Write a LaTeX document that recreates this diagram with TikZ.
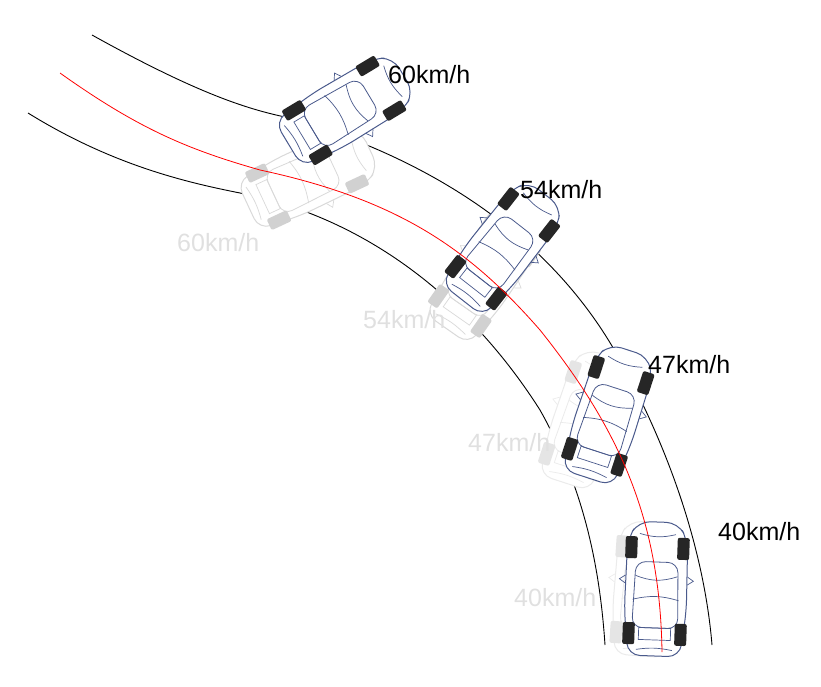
\documentclass[tikz,border=0pt]{standalone}
\usepackage{fontspec}
\setmainfont{Liberation Sans}
\definecolor{carln}{HTML}{4A5A8C}
\colorlet{carwh}{black!85}
\colorlet{ghln}{black!15}
\colorlet{ghwh}{black!18}
\colorlet{gh2ln}{black!8}
\colorlet{gh2wh}{black!10}
\begin{document}
\begin{tikzpicture}[x=1pt,y=-1pt,
  road/.style={black,line width=0.9pt},
  path/.style={red,line width=0.8pt},
  lbl/.style={font=\fontsize{25}{25}\selectfont,inner sep=0pt},
  ghostlbl/.style={lbl,text=black!12},
  pics/car/.style 2 args={code={
    \draw[#1,line width=1pt,fill=white,rounded corners=12pt]
      (-66,-26) -- (-20,-31) -- (50,-30) -- (68,-20) -- (68,20) -- (50,30) -- (-20,31) -- (-66,26) -- cycle;
    \draw[#1,line width=0.8pt,rounded corners=10pt] (-38,-23) -- (28,-21) -- (28,21) -- (-38,23) -- cycle;
    \draw[#1,line width=0.7pt] (-10,-23) to[bend left=15] (-10,23);
    \draw[#1,line width=0.7pt] (14,-21) to[bend right=20] (14,21);
    \draw[#1,line width=0.7pt] (-60,-18) to[bend left=10] (-60,18);
    \draw[#1,line width=0.7pt] (56,-18) to[bend right=15] (56,18);
    \draw[#1,line width=0.7pt] (-50,-16) rectangle (-38,16);
    \draw[#1,line width=0.7pt] (6,-31) -- (10,-37) -- (14,-31);
    \draw[#1,line width=0.7pt] (6,31) -- (10,37) -- (14,31);
    \foreach \wx in {-44,42}{\foreach \wy in {-26,26}{
      \fill[#2,rounded corners=2pt] (\wx-11,\wy-6) rectangle (\wx+11,\wy+6);}}
  }}]
\useasboundingbox (0,0) rectangle (821,686);
% road
\draw[road] (92,35) .. controls (200,95) and (250,110) .. (290,118)
  .. controls (450,165) and (560,250) .. (620,360)
  .. controls (675,460) and (705,560) .. (712,645);
\draw[road] (28,113) .. controls (120,170) and (200,185) .. (250,195)
  .. controls (370,222) and (470,300) .. (540,410)
  .. controls (585,490) and (600,570) .. (605,645);
% ghost cars
\pic[rotate=25] at (308,178) {car={ghln}{ghwh}};
\pic[rotate=55] at (485,275) {car={ghln}{ghwh}};
\pic[rotate=72] at (585,420) {car={gh2ln}{gh2wh}};
\pic[rotate=86] at (645,590) {car={gh2ln}{gh2wh}};
% cars
\pic[rotate=31] at (345,110) {car={carln}{carwh}};
\pic[rotate=52] at (503,248) {car={carln}{carwh}};
\pic[rotate=72] at (608,415) {car={carln}{carwh}};
\pic[rotate=88] at (656,590) {car={carln}{carwh}};
% red path
\draw[path] (60,73) .. controls (140,130) and (190,150) .. (260,170)
  .. controls (400,200) and (470,250) .. (540,330)
  .. controls (620,430) and (660,520) .. (662,652);
% labels
\node[lbl,anchor=west] (l60) at (388,75) {60km/h};
\node[lbl,anchor=west] (l54) at (520,190) {54km/h};
\node[lbl,anchor=west] (l47) at (648,365) {47km/h};
\node[lbl,anchor=west] (l40) at (718,532) {40km/h};
\node[ghostlbl,anchor=west] (g60) at (177,243) {60km/h};
\node[ghostlbl,anchor=west] (g54) at (363,320) {54km/h};
\node[ghostlbl,anchor=west] (g47) at (468,443) {47km/h};
\node[ghostlbl,anchor=west] (g40) at (514,598) {40km/h};
\end{tikzpicture}
\end{document}
